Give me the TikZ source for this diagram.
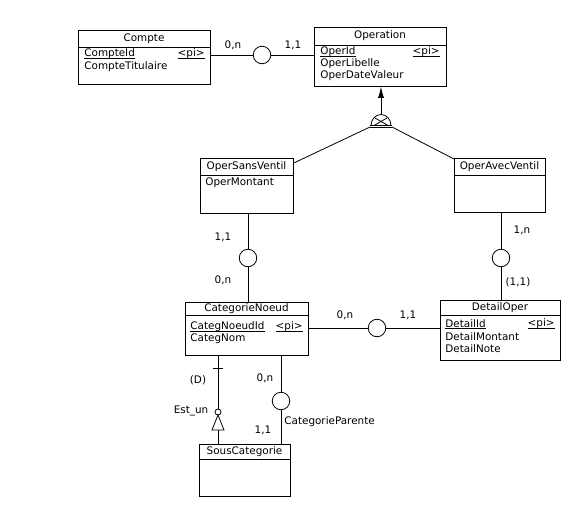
\documentclass[tikz,border=0pt]{standalone}
\usepackage{fontspec}
\setmainfont{DejaVu Sans}
\usetikzlibrary{arrows.meta}
\newcommand\myul[1]{\setbox0\hbox{#1}\rlap{\vrule height -1.1pt depth 1.9pt width \wd0}\box0}
\begin{document}
\begin{tikzpicture}[x=1pt,y=-1pt,line width=0.8pt,
  font=\fontsize{10.4}{12}\selectfont,
  ent/.style={draw,rectangle,anchor=north west,inner sep=0pt,fill=white},
  rel/.style={draw,circle,minimum size=17.5pt,inner sep=0pt},
  attr/.style={anchor=west,inner sep=0pt},
  pik/.style={anchor=east,inner sep=0pt},
  lbl/.style={inner sep=0pt}]
\useasboundingbox (0,0) rectangle (574,517);
% entities
\node[ent,minimum width=132pt,minimum height=54pt] (compte) at (78,30) {};
\node[ent,minimum width=132pt,minimum height=59pt] (operation) at (314,27) {};
\node[ent,minimum width=93pt,minimum height=55pt] (osv) at (200,158) {};
\node[ent,minimum width=91pt,minimum height=54pt] (oav) at (454,158) {};
\node[ent,minimum width=123pt,minimum height=53pt] (catn) at (185,302) {};
\node[ent,minimum width=120pt,minimum height=60pt] (detail) at (440,300) {};
\node[ent,minimum width=91pt,minimum height=52pt] (sous) at (199,444) {};
% separators
\draw (compte.west |- 0,47) -- (compte.east |- 0,47);
\draw (operation.west |- 0,45) -- (operation.east |- 0,45);
\draw (osv.west |- 0,175) -- (osv.east |- 0,175);
\draw (oav.west |- 0,175) -- (oav.east |- 0,175);
\draw (catn.west |- 0,315) -- (catn.east |- 0,315);
\draw (detail.west |- 0,315) -- (detail.east |- 0,315);
\draw (sous.west |- 0,459) -- (sous.east |- 0,459);
% titles
\node[lbl] (tcompte) at (144,38.5) {Compte};
\node[lbl] (toper) at (380,36) {Operation};
\node[lbl] (tosv) at (246.5,166.5) {OperSansVentil};
\node[lbl] (toav) at (499.5,166.5) {OperAvecVentil};
\node[lbl] (tcatn) at (246.5,308.5) {CategorieNoeud};
\node[lbl] (tdetail) at (500,307.5) {DetailOper};
\node[lbl] (tsous) at (244.5,451.5) {SousCategorie};
% attributes
\node[attr] (a1) at (84,54) {\myul{CompteId}};
\node[pik] (p1) at (205,54) {\myul{<pi>}};
\node[attr] (a2) at (84,67) {CompteTitulaire};
\node[attr] (a3) at (320,52) {\myul{OperId}};
\node[pik] (p3) at (440,52) {\myul{<pi>}};
\node[attr] (a4) at (320,64) {OperLibelle};
\node[attr] (a5) at (320,76) {OperDateValeur};
\node[attr] (a6) at (205,183) {OperMontant};
\node[attr] (a7) at (190,327) {\myul{CategNoeudId}};
\node[pik] (p7) at (303,327) {\myul{<pi>}};
\node[attr] (a8) at (190,339) {CategNom};
\node[attr] (a9) at (445,324) {\myul{DetailId}};
\node[pik] (p9) at (555,324) {\myul{<pi>}};
\node[attr] (a10) at (445,336.5) {DetailMontant};
\node[attr] (a11) at (445,348.5) {DetailNote};
% relations
\node[rel] (r1) at (262,55) {};
\draw (compte.east |- r1) -- (r1) -- (r1 -| operation.west);
\node[rel] (r2) at (248,258) {};
\draw (osv.south -| r2) -- (r2) -- (r2 |- catn.north);
\node[rel] (r3) at (501,258) {};
\draw (oav.south -| r3) -- (r3) -- (r3 |- detail.north);
\node[rel] (r4) at (377,328) {};
\draw (catn.east |- r4) -- (r4) -- (r4 -| detail.west);
\node[rel] (r5) at (281,401) {};
\draw (catn.south -| r5) -- (r5) -- (r5 |- sous.north);
% cardinalities
\node[lbl] (c1) at (233,45) {0,n};
\node[lbl] (c2) at (293,45) {1,1};
\node[lbl] (c3) at (223,237) {1,1};
\node[lbl] (c4) at (223,280) {0,n};
\node[lbl] (c5) at (522,230) {1,n};
\node[lbl] (c6) at (518,282) {(1,1)};
\node[lbl] (c7) at (345,315) {0,n};
\node[lbl] (c8) at (408,315) {1,1};
\node[lbl] (c9) at (265,378) {0,n};
\node[lbl] (c10) at (263,430) {1,1};
\node[lbl,anchor=west] (c11) at (284,422) {CategorieParente};
\node[lbl] (c12) at (198,380) {(D)};
\node[lbl] (c13) at (191,411) {Est\_un};
% inheritance symbol
\coordinate (inhtop) at (381,114.5);
\coordinate (inhl) at (370,127);
\coordinate (inhr) at (392,127);
\draw (371,125.5) arc[start angle=180,end angle=360,x radius=10,y radius=11];
\draw (370,125.5) -- (392,125.5);
\draw (inhl) -- (inhr);
\draw (375,118) -- (388,125.5);
\draw (387,118) -- (374,125.5);
\draw[-{Latex[length=11pt,width=6pt]}] (inhtop) -- (inhtop |- operation.south);
\draw (inhl) -- ([yshift=-5pt]osv.north east);
\draw (inhr) -- ([yshift=-1pt]oav.north west);
% Est_un link
\node[draw,circle,minimum size=6pt,inner sep=0pt] (isac) at (218,412) {};
\coordinate (isab) at (218,430);
\draw (catn.south -| isac) -- (isac);
\draw (213,368) -- (223,368);
\draw (218,415) -- (224,430) -- (212,430) -- cycle;
\draw (isab) -- (isab |- sous.north);
\end{tikzpicture}
\end{document}
